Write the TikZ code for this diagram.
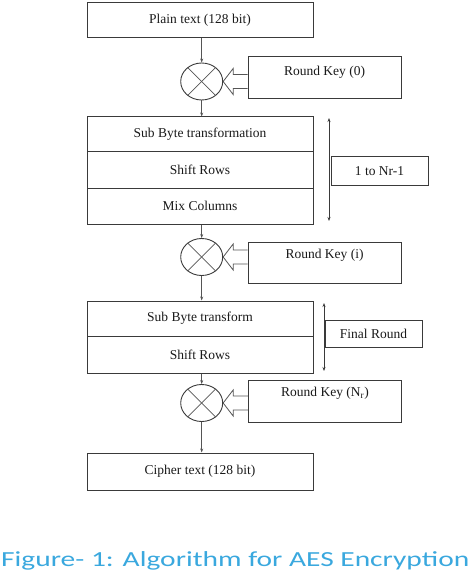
\documentclass[tikz,border=0pt]{standalone}
\usepackage{fontspec}
\setmainfont{Liberation Serif}
\newfontfamily\capfont{Carlito}
\usetikzlibrary{shapes.geometric,arrows.meta,calc}
\definecolor{linec}{HTML}{3A3A3A}
\definecolor{thinc}{HTML}{555555}
\definecolor{capblue}{HTML}{3AA8DE}
\begin{document}
\begin{tikzpicture}[x=1pt,y=-1pt,
  every node/.style={font=\fontsize{13.5}{16}\selectfont, text=black!90},
  box/.style={draw=linec, line width=1pt, minimum width=226pt, inner sep=0pt},
  keybox/.style={draw=linec, line width=1pt, minimum width=153pt, minimum height=42pt, inner sep=0pt},
  keytext/.style={inner sep=0pt},
  smallbox/.style={draw=linec, line width=1pt, minimum width=97pt, inner sep=0pt},
  xorc/.style={ellipse, draw=linec, line width=0.9pt, minimum width=42pt, minimum height=37pt, inner sep=0pt},
  xline/.style={draw=thinc, line width=0.7pt},
  flow/.style={draw=thinc, line width=0.7pt, -{Stealth[length=4pt,width=3pt]}},
  spanarrow/.style={draw=linec, line width=0.8pt, {Stealth[length=4pt,width=3pt]}-{Stealth[length=4pt,width=3pt]}},
  blockarrow/.style={draw=thinc, line width=0.8pt, line join=miter}
]
\useasboundingbox (0,0) rectangle (474,580);

% Plain text and first XOR
\node[box, minimum height=35pt] (plain) at (200,20.5) {Plain text (128 bit)};
\node[xorc] (c1) at (201.7,81.5) {};
\node[keybox] (k0) at (324.5,78) {};
\node[keytext] (k0t) at ($(k0)+(0,-6)$) {Round Key (0)};

% Round block
\node[box, minimum height=35pt] (sb1) at (200,134.5) {Sub Byte transformation};
\node[box, minimum height=36pt] (sr1) at (200,170) {Shift Rows};
\node[box, minimum height=36pt] (mc1) at (200,206) {Mix Columns};
\coordinate (r1t) at (329,118);
\coordinate (r1b) at (329,221);
\node[smallbox, minimum height=28pt] (loop) at (379.5,171) {1 to Nr-1};

% Second XOR
\node[xorc] (c2) at (201.7,257) {};
\node[keybox, minimum height=41pt] (ki) at (324.5,262.5) {};
\node[keytext] (kit) at ($(ki)+(0,-7)$) {Round Key (i)};

% Final round
\node[box, minimum height=35pt] (sb2) at (200,318.5) {Sub Byte transform};
\node[box, minimum height=37pt] (sr2) at (200,354.5) {Shift Rows};
\coordinate (r2t) at (324,303);
\coordinate (r2b) at (324,371);
\node[smallbox, minimum height=27pt] (final) at (373.5,333.5) {Final Round};

% Third XOR
\node[xorc] (c3) at (201.7,403) {};
\node[keybox] (kn) at (325,401) {};
\node[keytext] (knt) at ($(kn)+(0,-8)$) {Round Key (N\textsubscript{r})};

% Cipher
\node[box, minimum height=37pt] (cipher) at (200,471.5) {Cipher text (128 bit)};

% crosses in XOR circles
\foreach \c in {c1,c2,c3}{
  \draw[xline] (\c.45) -- (\c.225);
  \draw[xline] (\c.135) -- (\c.315);
}

% flow arrows
\draw[flow] (plain.south -| c1.north) -- (c1.north);
\draw[flow] (c1.south) -- (sb1.north -| c1.south);
\draw[flow] (mc1.south -| c2.north) -- (c2.north);
\draw[flow] (c2.south) -- (sb2.north -| c2.south);
\draw[flow] (sr2.south -| c3.north) -- (c3.north);
\draw[flow] (c3.south) -- (cipher.north -| c3.south);

% span arrows
\draw[spanarrow] (r1t) -- (r1b);
\draw[spanarrow] (r2t) -- (r2b);

% block arrows from round keys
\foreach \k/\c in {k0/c1,ki/c2,kn/c3}{
  \draw[blockarrow] ($(\k.west |- \c.east)+(0,-7)$) -- ($(\c.east)+(10,-7)$) -- ($(\c.east)+(10,-13)$) -- (\c.east) -- ($(\c.east)+(10,13)$) -- ($(\c.east)+(10,7)$) -- ($(\k.west |- \c.east)+(0,7)$);
}

% caption
\node[anchor=base west, inner sep=0pt, text=capblue, font=\capfont\fontsize{21.5}{26}\selectfont] (cap) at (1,566) {\scalebox{1.37}[1]{Figure- 1: Algorithm for AES Encryption}};
\end{tikzpicture}
\end{document}
